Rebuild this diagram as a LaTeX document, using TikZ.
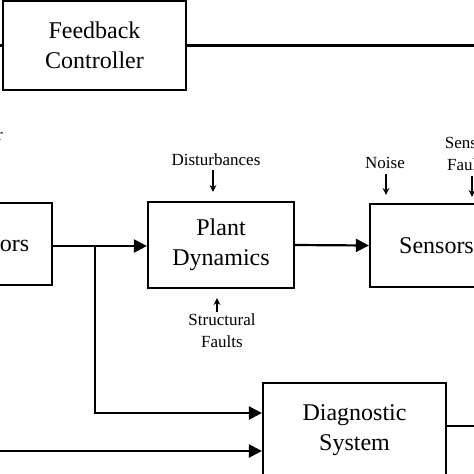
\documentclass[tikz,border=0pt]{standalone}
\usepackage{fontspec}
\setmainfont{Liberation Serif}
\usetikzlibrary{arrows.meta,positioning}
\tikzstyle{block} = [rectangle, draw=black, line width=2.2pt, text centered, align=center, inner sep=0pt, font=\fontsize{24}{30}\selectfont]
\tikzstyle{note} = [align=center, inner sep=0pt, font=\fontsize{17}{22}\selectfont]
\tikzstyle{sig} = [line width=2.2pt, -{Triangle[length=13pt,width=13pt]}]
\tikzstyle{wire} = [line width=2.2pt]
\tikzstyle{hint} = [line width=1.5pt, -{Stealth[length=7pt,width=7pt,inset=2.5pt]}]

\begin{document}
\begin{tikzpicture}[x=1pt,y=-1pt]
 \useasboundingbox (0,0) rectangle (474,474);
 \clip (0,0) rectangle (474,474);

 % blocks
 \node (fb) [block, minimum width=183pt, minimum height=89pt] at (94.5,45.5) {Feedback\\Controller};
 \node (act) [block, minimum width=139pt, minimum height=82pt] at (-17.5,244) {Actuators};
 \node (plant) [block, minimum width=146pt, minimum height=86pt] at (221,245) {Plant\\Dynamics};
 \node (sens) [block, minimum width=133pt, minimum height=83pt] at (436.5,245.5) {Sensors};
 \node (diag) [block, minimum width=183pt, minimum height=94pt] at (354.5,430) {Diagnostic\\System};

 % inputs
 \node (afault) [note] at (-27,146) {Actuator\\Faults};
 \node (dist) [note] at (216,160) {Disturbances};
 \node (struct) [note] at (222,331) {Structural\\Faults};
 \node (noise) [note] at (385,163) {Noise};
 \node (sfault) [note] at (468,154) {Sensor\\Faults};

 \coordinate (fbl) at (-5,45.5);
 \coordinate (fbr) at (480,45.5);
 \coordinate (split) at (95,246);
 \coordinate (dleft) at (-5,451);
 \coordinate (dright) at (480,426);

 \draw [wire] (fbl) -- (fb.west);
 \draw [wire] (fb.east) -- (fbr);
 \draw [sig] ([yshift=-2pt]act.east) -- ([yshift=-2pt]act.east -| plant.west);
 \draw [sig] (plant.east) -- (sens.west);
 \draw [sig] (split) |- ([yshift=17pt]diag.west);
 \draw [sig] (dleft) -- (dleft -| diag.west);
 \draw [wire] ([yshift=4pt]diag.east) -- ([yshift=4pt]diag.east -| dright);

 \draw [hint, shorten <=4pt, shorten >=9pt] ([xshift=-3pt]dist.south) -- ([xshift=-3pt]dist.south |- plant.north);
 \draw [hint, shorten <=2pt, shorten >=9pt] ([xshift=-5pt]struct.north) -- ([xshift=-5pt]struct.north |- plant.south);
 \draw [hint, shorten <=5pt, shorten >=8pt] ([xshift=1pt]noise.south) -- ([xshift=1pt]noise.south |- sens.north);
 \draw [hint, shorten <=5pt, shorten >=6pt] ([xshift=4pt]sfault.south) -- ([xshift=4pt]sfault.south |- sens.north);
\end{tikzpicture}
\end{document}
